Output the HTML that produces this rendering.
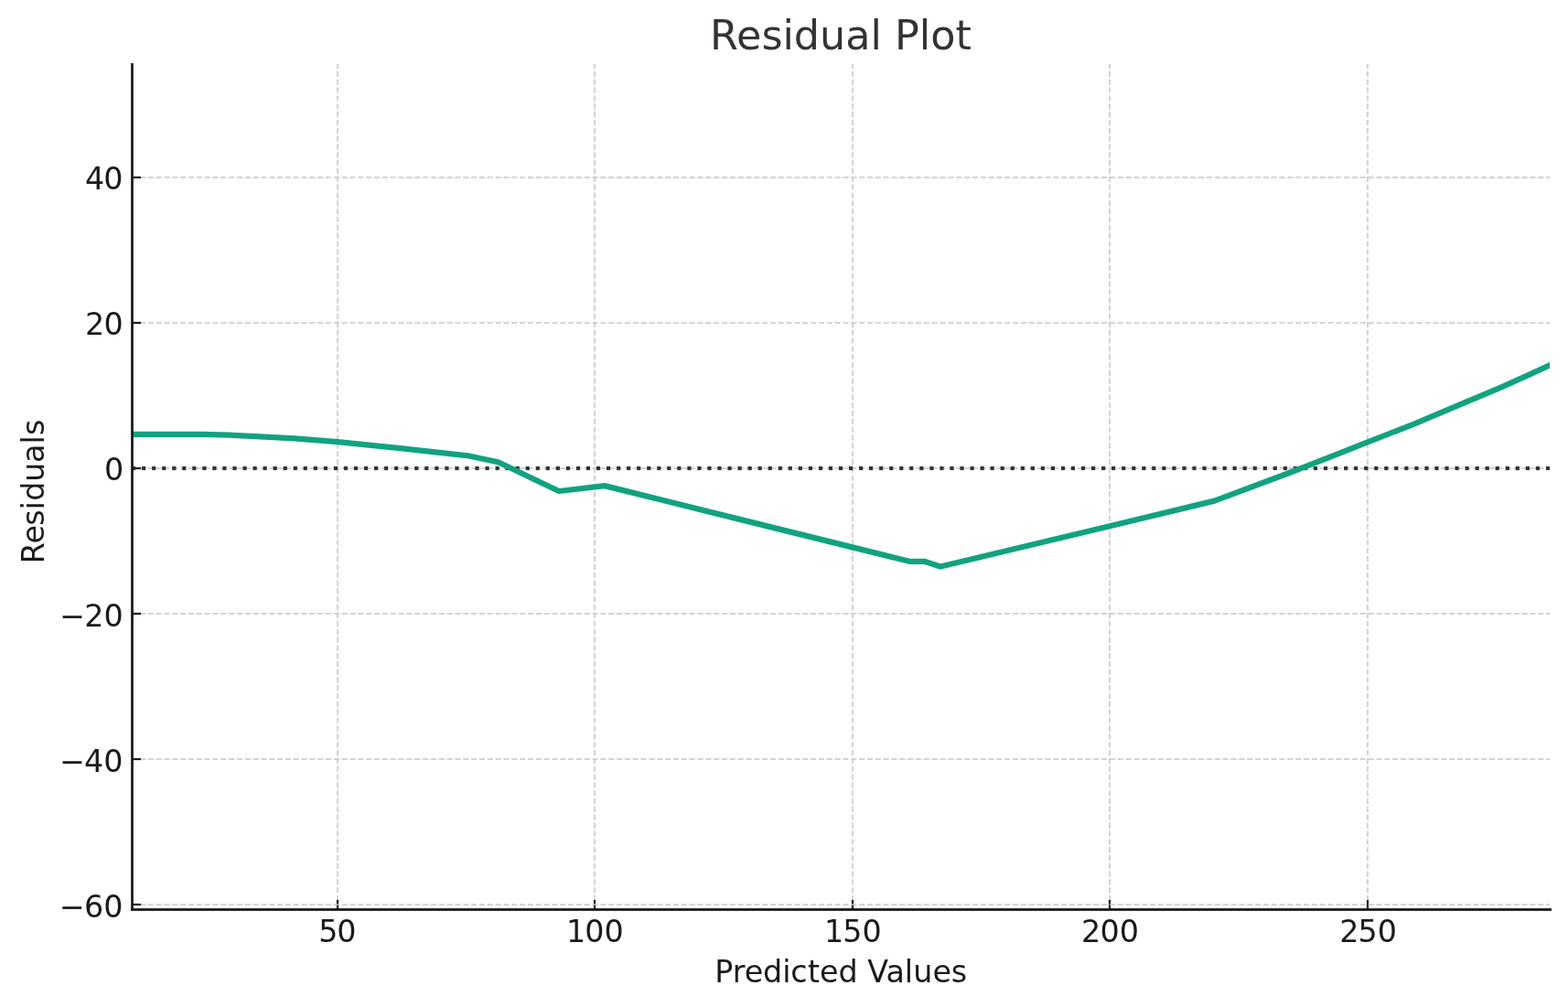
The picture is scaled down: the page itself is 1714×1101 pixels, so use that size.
<!DOCTYPE html>
<html lang="en">
<head>
<meta charset="utf-8">
<title>Residual Plot</title>
<style>
html,body{margin:0;padding:0;background:#fff;}
body{width:1714px;height:1101px;overflow:hidden;}
svg{display:block;}
text{font-family:"DejaVu Sans","Liberation Sans",sans-serif;text-rendering:auto;}
.tick{font-size:33.333px;fill:#1a1a1a;}
.lab{font-size:33.333px;fill:#1a1a1a;}
.title{font-size:44.444px;fill:#333333;}
</style>
</head>
<body>
<svg width="1714" height="1101" viewBox="0 0 1714 1101">
<rect width="1714" height="1101" fill="#ffffff"/>
<defs><clipPath id="ax"><rect x="144" y="70" width="1550" height="924"/></clipPath></defs>
<g id="xspine">
<rect x="143.1" y="993" width="1552.8" height="3" fill="#323232"/>
<rect x="143.1" y="994" width="1552.8" height="1" fill="#1a1a1a"/>
<rect x="143.1" y="993" width="2.9" height="3" fill="#1a1a1a"/>
</g>
<g id="xgrid" stroke="#cccccc" stroke-width="1.667" stroke-dasharray="6.167 2.667" fill="none">
<path d="M369 994 V70"/>
<path d="M650 994 V70"/>
<path d="M932 994 V70"/>
<path d="M1213 994 V70"/>
<path d="M1495 994 V70"/>
</g>
<g id="xticks" stroke="#1a1a1a" stroke-width="2.222" fill="none">
<path d="M369 994 V984"/>
<path d="M650 994 V984"/>
<path d="M932 994 V984"/>
<path d="M1213 994 V984"/>
<path d="M1495 994 V984"/>
</g>
<g id="ygrid" stroke="#c6c6c6" stroke-width="1.667" stroke-dasharray="6.167 2.667" fill="none">
<path d="M144 194 H1694"/>
<path d="M144 353 H1694"/>
<path d="M144 512 H1694"/>
<path d="M144 671 H1694"/>
<path d="M144 830 H1694"/>
<path d="M144 989 H1694"/>
</g>
<g id="yticks" stroke="#1a1a1a" stroke-width="2.222" fill="none">
<path d="M144 194 H154"/>
<path d="M144 353 H154"/>
<path d="M144 512 H154"/>
<path d="M144 671 H154"/>
<path d="M144 830 H154"/>
<path d="M144 989 H154"/>
</g>
<path id="zero-aa" d="M144 512 H1694" stroke="#333333" stroke-opacity="0.083" stroke-width="6" stroke-dasharray="4.167 6.875" fill="none"/>
<path id="zero" d="M144 512 H1694" stroke="#333333" stroke-width="4.167" stroke-dasharray="4.167 6.875" fill="none"/>
<path id="curve" clip-path="url(#ax)" d="M138 474.95 L222 474.8 L250 475.6 L280 477.2 L322 479.3 L369 483.1 L440 490.4 L511.5 498.2 L544.6 505.3 L611 537 L661 531.1 L740 550.7 L830 573.1 L940 600.35 L994 613.75 L1010.6 613.75 L1027.9 619.5 L1213 575.25 L1327.5 547.65 L1410 516.75 L1452 500.3 L1495 483.3 L1545 463.9 L1600 440.63 L1640 423.8 L1670 410.4 L1694.5 399.2 L1700 396.69" stroke="#10a37f" stroke-width="6.25" stroke-linejoin="round" stroke-linecap="butt" fill="none"/>
<g id="spines" stroke="#1a1a1a" stroke-width="2.778" stroke-linecap="butt" fill="none">
<path d="M144.5 70 V996"/>
<path d="M144.5 69 V70" stroke-opacity="0.895"/>
</g>
<g id="xlabels">
<text class="tick" x="348.152 368.195" y="1030">50</text>
<text class="tick" x="619.038 639.339 660.583" y="1030">100</text>
<text class="tick" x="901.038 921.27 942.583" y="1030">150</text>
<text class="tick" x="1182.106 1202.485 1223.714" y="1030">200</text>
<text class="tick" x="1464.127 1484.423 1505.734" y="1030">250</text>
</g>
<g id="ylabels">
<text class="tick" x="93.069 113.351" y="207.15">40</text>
<text class="tick" x="93.016 113.406" y="366.15">20</text>
<text class="tick" x="114.084" y="525.15">0</text>
<text class="tick" x="65.13 92.127 113.516" y="685.15">−20</text>
<text class="tick" x="65.21 92.048 113.324" y="844.15">−40</text>
<text class="tick" x="65.11 92.099 113.224" y="1003.15">−60</text>
</g>
<text class="lab" x="781.174 800.788 813.757 834.102 855.232 864.343 883.017 895.914 916.405 937.884 948.296 968.499 988.745 998.275 1019.432 1039.751" y="1073.58">Predicted Values</text>
<text class="lab" transform="translate(48.1 537.6) rotate(-90)" x="-78.596 -56.94 -37.249 -20.015 -10.281 10.809 31.664 52.116 61.532" y="0">Residuals</text>
<text class="title" x="776.114 805.097 832.459 855.528 867.818 896.027 924.22 951.482 963.933 977.936 1004.725 1017.135 1044.493" y="54.02">Residual Plot</text>
</svg>
</body>
</html>
